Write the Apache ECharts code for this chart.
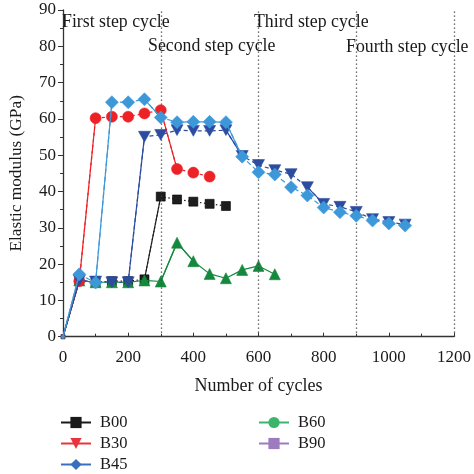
<!DOCTYPE html>
<html>
<head>
<meta charset="utf-8">
<script src="https://cdn.jsdelivr.net/npm/echarts@6/dist/echarts.min.js"></script>
<style>html,body{margin:0;padding:0;background:#fff;}#c{width:474px;height:474px;}</style>
</head>
<body>
<div id="c"></div>
<script>
// ---- data ----
var cycles = [0, 50, 100, 150, 200, 250, 300, 350, 400, 450, 500, 550, 600, 650, 700, 750, 800, 850, 900, 950, 1000, 1050];
var blackVals     = [0, 15.5, 15.0, 15.3, 15.3, 15.8, 38.6, 37.8, 37.2, 36.6, 36.0];
var redVals       = [0, 15.3, 60.2, 60.6, 60.6, 61.5, 62.4, 46.2, 45.2, 44.1];
var darkBlueVals  = [0, 15.5, 15.2, 15.0, 15.0, 55.1, 55.6, 56.9, 56.7, 56.7, 56.9, 49.8, 47.3, 45.9, 44.8, 41.2, 36.6, 35.8, 34.4, 32.4, 31.6, 30.9];
var lightBlueVals = [0, 17.2, 14.9, 64.6, 64.6, 65.4, 60.4, 59.1, 59.2, 59.2, 59.1, 49.6, 45.3, 44.7, 41.2, 38.9, 35.6, 34.3, 33.3, 32.0, 31.2, 30.6];
var greenVals     = [0, 15.5, 15.0, 15.0, 15.0, 15.5, 15.2, 25.9, 20.8, 17.3, 16.1, 18.4, 19.5, 17.2];
var legendNames = ['B00', 'B30', 'B45', 'B60', 'B90'];
var stepCycles = [300, 600, 900, 1200];
var stepLabels = ['First step cycle', 'Second step cycle', 'Third step cycle', 'Fourth step cycle'];
var xTicks = [0, 200, 400, 600, 800, 1000, 1200];

var FONT = '"Liberation Serif", "DejaVu Serif", serif';

function pts(vals) { return vals.map(function (v, i) { return [cycles[i], v]; }); }

var plotDefs = [
  { vals: blackVals, color: '#1e1e1e', symbol: 'rect', size: 9, dash: [1.5, 2.5], border: '#000' },
  { vals: greenVals, color: '#14893d', symbol: 'triangle', size: 11, dash: 'solid', border: '#14893d' },
  { vals: redVals, color: '#ec2227', symbol: 'circle', size: 11, dash: [3, 3], border: '#ec2227' },
  { vals: darkBlueVals, color: '#2b4c9f', symbol: 'path://M0,0 L10,0 L5,9 Z', size: 12, dash: [4, 3], border: '#2b4c9f' },
  { vals: lightBlueVals, color: '#3d98d9', symbol: 'diamond', size: 13, dash: [5, 3], border: '#3d98d9' }
];

var series = [];
plotDefs.forEach(function (d, k) {
  var data = pts(d.vals);
  series.push({
    type: 'line', name: 'p' + k, data: data, z: 3 + k,
    symbol: d.symbol, symbolKeepAspect: true,
    symbolSize: function (v) { return v[0] === 0 ? 4 : d.size; },
    itemStyle: { color: d.color, borderColor: d.border, borderWidth: 0.6 },
    lineStyle: { color: d.color, width: 1.2, type: d.dash },
    clip: false
  });
  // solid segments where value jumps strongly
  for (var i = 0; i < data.length - 1; i++) {
    if (Math.abs(data[i + 1][1] - data[i][1]) > 4.5) {
      series.push({
        type: 'line', name: 'seg' + k + '_' + i, data: [data[i], data[i + 1]], z: 3 + k,
        symbol: 'none', lineStyle: { color: d.color, width: 1.2, type: 'solid' }, silent: true
      });
    }
  }
});

// vertical step lines
series.push({
  type: 'line', name: 'steps', data: [], z: 1,
  markLine: {
    silent: true, symbol: 'none', label: { show: false },
    lineStyle: { color: '#444', width: 1.3, type: [1.3, 2.7] },
    data: stepCycles.map(function (c) { return { xAxis: c }; })
  }
});

// legend-only series (as drawn in the reference legend)
var legendStyles = [
  { color: '#1a1a1a', symbol: 'rect' },
  { color: '#e8343c', symbol: 'triangle', rotate: 180 },
  { color: '#3a6fbf', symbol: 'diamond' },
  { color: '#3cb469', symbol: 'circle' },
  { color: '#9c7bbf', symbol: 'rect' }
];
legendNames.forEach(function (n, i) {
  var s = legendStyles[i];
  series.push({
    type: 'line', name: n, data: [], symbol: s.symbol, symbolSize: 10, symbolRotate: s.rotate || 0,
    itemStyle: { color: s.color }, lineStyle: { color: s.color, width: 1.5 }
  });
});

// annotation texts
var textPos = [[62, 13], [148, 37], [254, 13], [346, 38]];
var graphics = stepLabels.map(function (t, i) {
  return { type: 'text', left: textPos[i][0], top: textPos[i][1], z: 10,
    style: { text: t, font: '17.8px ' + FONT, fill: '#1a1a1a' } };
});

var legendText = { fontFamily: FONT, fontSize: 16.5, color: '#1a1a1a', padding: [0, 0, 0, 4], lineHeight: 18 };

var chart = echarts.init(document.getElementById('c'), null, { renderer: 'canvas' });
chart.setOption({
  animation: false,
  backgroundColor: '#fff',
  grid: { left: 60.5, right: 18, top: 10, bottom: 137.3, containLabel: false },
  xAxis: {
    type: 'value', min: 0, max: 1200, interval: 200,
    name: 'Number of cycles', nameLocation: 'middle', nameGap: 41,
    nameTextStyle: { fontFamily: FONT, fontSize: 18, color: '#1a1a1a' },
    axisLine: { show: true, onZero: false, lineStyle: { color: '#333', width: 1.3 } },
    axisTick: { show: true, inside: true, length: 4, lineStyle: { color: '#333' } },
    minorTick: { show: true, splitNumber: 2, length: 3, lineStyle: { color: '#333' } },
    axisLabel: { fontFamily: FONT, fontSize: 17, color: '#1a1a1a', margin: 12,
      formatter: function (v) { return xTicks.indexOf(v) >= 0 ? String(v) : ''; } },
    splitLine: { show: false }
  },
  yAxis: {
    type: 'value', min: 0, max: 90, interval: 10,
    name: 'Elastic modulus (GPa)', nameLocation: 'middle', nameGap: 38,
    nameTextStyle: { fontFamily: FONT, fontSize: 17.3, color: '#1a1a1a' },
    axisLine: { show: true, lineStyle: { color: '#333', width: 1.3 } },
    axisTick: { show: true, length: 5, lineStyle: { color: '#333' } },
    minorTick: { show: true, splitNumber: 2, length: 3, lineStyle: { color: '#333' } },
    axisLabel: { fontFamily: FONT, fontSize: 17, color: '#1a1a1a', margin: 7 },
    splitLine: { show: false }
  },
  legend: [
    { data: legendNames.slice(0, 3), orient: 'vertical', left: 55, top: 408.5, height: 65, itemWidth: 30, itemHeight: 14, itemGap: 3,
      textStyle: legendText, selectedMode: false },
    { data: legendNames.slice(3), orient: 'vertical', left: 253, top: 408.5, height: 65, itemWidth: 30, itemHeight: 14, itemGap: 3,
      textStyle: legendText, selectedMode: false }
  ],
  graphic: graphics,
  series: series
});
</script>
</body>
</html>
